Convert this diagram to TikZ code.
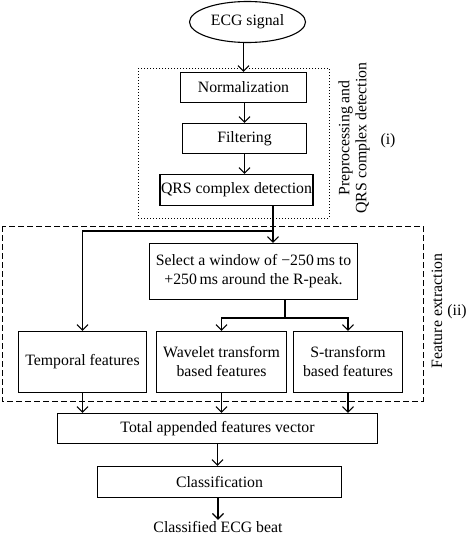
\documentclass[tikz,border=0pt]{standalone}
\usepackage{fontspec}
\setmainfont{Liberation Serif}
\usetikzlibrary{shapes,arrows.meta}
\tikzstyle{every picture}=[x=1pt, y=-1pt, line width=1.1pt,%
	>={Straight Barb[length=5.5pt, width=11pt, line width=1.2pt]},%
	font=\fontsize{15.8}{19}\selectfont]
\tikzstyle{block}=[draw, rectangle, align=center, inner sep=1pt]
\tikzstyle{signal}=[draw, ellipse, inner sep=1pt]
\tikzstyle{group}=[line width=1pt]

\begin{document}
\begin{tikzpicture}
\useasboundingbox (0,0) rectangle (474,557);
% preprocessing stage
\node[signal, minimum width=116, minimum height=41] (ecg) at (247.5,22) {ECG signal};
\node[block, minimum width=126, minimum height=30] (norm) at (243.5,87.5) {Normalization};
\node[block, minimum width=124, minimum height=30] (filt) at (244.5,138.5) {Filtering};
\node[block, minimum width=150, minimum height=31] (qrs) at (236.5,190) {QRS complex detection};
\draw[group, dotted] (138,68) rectangle (329,218);
\node[rotate=90, align=center, font=\fontsize{15.8}{17}\selectfont] (prelab) at (354,138)
	{Preprocessing and\\ QRS complex detection};
\node (prenum) at (388,141) {(i)};
% feature extraction stage
\node[block, minimum width=208, minimum height=56] (sel) at (253.5,271.5)
	{Select a window of −250\,ms to\\ +250\,ms around the R-peak.};
\node[block, minimum width=128, minimum height=61] (temp) at (82.5,362) {Temporal features};
\node[block, minimum width=130, minimum height=61] (wav) at (221.5,362)
	{Wavelet transform\\ based features};
\node[block, minimum width=109, minimum height=61] (strans) at (348,362)
	{S-transform\\ based features};
\draw[group, dash pattern=on 6pt off 3pt] (2,226) rectangle (423,401);
\node[rotate=90] (featlab) at (437,311) {Feature extraction};
\node (featnum) at (457,312) {(ii)};
% classification stage
\node[block, minimum width=320, minimum height=30] (total) at (217.5,428.5)
	{Total appended features vector};
\node[block, minimum width=244, minimum height=31] (cls) at (219.5,482) {Classification};
\node[inner sep=1pt] (beat) at (218,527) {Classified ECG beat};
\coordinate (split) at (273,231);
\coordinate (fork) at (285,318);
\draw[->] (norm.north |- ecg.south) -- (norm);
\draw[->] (norm.south -| filt) -- (filt);
\draw[->] (filt.south) -- (filt.south |- qrs.north);
\draw[->] (qrs.south -| split) -- (split |- sel.north);
\draw[->] (split) -| (temp.north);
\draw (sel.south -| fork) -- (fork);
\draw[->] (fork) -| (wav.north);
\draw[->] (fork) -| (strans.north);
\draw[->] (temp.south) -- (temp.south |- total.north);
\draw[->] (wav.south) -- (wav.south |- total.north);
\draw[->] (strans.south) -- (strans.south |- total.north);
\draw[->] (total.south) -- (total.south |- cls.north);
\draw[->] (cls.south -| beat) -- (beat);
\end{tikzpicture}
\end{document}
